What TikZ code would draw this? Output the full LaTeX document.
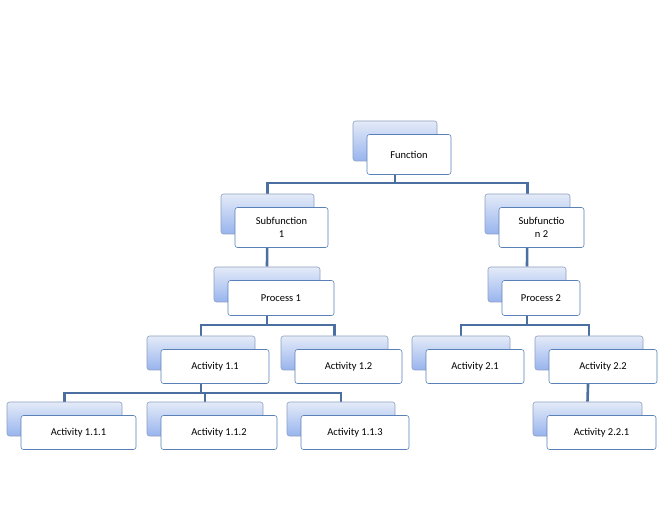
\documentclass[tikz,border=0pt]{standalone}
\usepackage{fontspec}
\setmainfont{Carlito}
\usetikzlibrary{backgrounds}
\definecolor{ln}{HTML}{4A6FA0}
\definecolor{gtop}{HTML}{E4EBF8}
\definecolor{gbot}{HTML}{98B4EE}
\definecolor{bbd}{HTML}{8F9FBF}
\definecolor{fbd}{HTML}{5A80B8}
\tikzset{
 back/.style={draw=bbd,rounded corners=2.5pt,top color=gtop,bottom color=gbot,line width=0.6pt,inner sep=0pt},
 front/.style={draw=fbd,fill=white,rounded corners=2.5pt,line width=0.6pt,inner sep=1pt,align=center,font=\fontsize{10.5}{13}\selectfont},
 conn/.style={draw=ln,line width=2.6pt}
}
\newcommand\mybox[6]{% name, cx, cy, w, h, text
 \node[back,minimum width=#4pt,minimum height=#5pt] (#1b) at (#2,#3) {};
 \node[front,minimum width=#4pt,minimum height=#5pt] (#1) at ([shift={(14pt,-13.5pt)}]#1b.center) {#6};
}
\begin{document}
\begin{tikzpicture}[x=1pt,y=-1pt]
\useasboundingbox (0,0) rectangle (667,529);
\mybox{f}{395}{141}{84}{40}{Function}
\mybox{s1}{267.5}{214}{93}{40}{Subfunction\\1}
\mybox{s2}{527.5}{214}{85}{40}{Subfunctio\\n 2}
\mybox{p1}{267}{284.5}{106}{35}{Process 1}
\mybox{p2}{527}{284.5}{78}{35}{Process 2}
\mybox{a11}{201}{353}{108}{34}{Activity 1.1}
\mybox{a12}{334.5}{353}{107}{34}{Activity 1.2}
\mybox{a21}{461}{353}{98}{34}{Activity 2.1}
\mybox{a22}{589}{353}{108}{34}{Activity 2.2}
\mybox{a111}{64.5}{419}{115}{34}{Activity 1.1.1}
\mybox{a112}{205}{419}{116}{34}{Activity 1.1.2}
\mybox{a113}{341}{419}{108}{34}{Activity 1.1.3}
\mybox{a221}{587.5}{419}{109}{34}{Activity 2.2.1}
\begin{scope}[on background layer]
\draw[conn] (fb.center) -- (fb.center |- 0,183) -| (s1b.north);
\draw[conn] (fb.center |- 0,183) -| (s2b.north);
\draw[conn] (s1b.center) -- (p1b.north);
\draw[conn] (s2b.center) -- (p2b.north);
\draw[conn] (p1b.center) -- (p1b.center |- 0,325) -| (a11b.north);
\draw[conn] (p1b.center |- 0,325) -| (a12b.north);
\draw[conn] (p2b.center) -- (p2b.center |- 0,325) -| (a21b.north);
\draw[conn] (p2b.center |- 0,325) -| (a22b.north);
\draw[conn] (a11b.center) -- (a11b.center |- 0,393) -| (a111b.north);
\draw[conn] (a11b.center |- 0,393) -| (a112b.north);
\draw[conn] (a11b.center |- 0,393) -| (a113b.north);
\draw[conn] (a22b.center) -- (a221b.north);
\end{scope}
\end{tikzpicture}
\end{document}
